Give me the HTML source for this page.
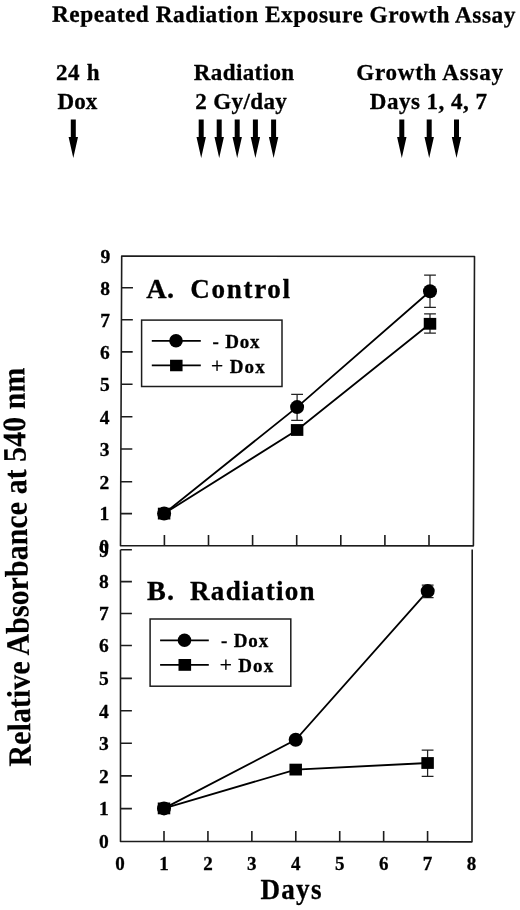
<!DOCTYPE html>
<html><head><meta charset="utf-8"><title>Repeated Radiation Exposure Growth Assay</title>
<style>html,body{margin:0;padding:0;background:#fff;overflow:hidden;}svg{display:block;}</style></head>
<body><svg width="520" height="910" viewBox="0 0 520 910">
<rect width="520" height="910" fill="#fff"/>
<text transform="translate(52.0 21.7) rotate(0.1)" font-family="Liberation Serif, Times New Roman, serif" font-weight="bold" stroke="#000" stroke-width="0.3" font-size="23.3" letter-spacing="0.518">Repeated Radiation Exposure Growth Assay</text>
<text transform="translate(55.9 79.8) scale(0.96 1)" font-family="Liberation Serif, Times New Roman, serif" font-weight="bold" stroke="#000" stroke-width="0.3" font-size="24.0" letter-spacing="0.729">24 h</text>
<text transform="translate(57.5 108.6) scale(0.96 1)" font-family="Liberation Serif, Times New Roman, serif" font-weight="bold" stroke="#000" stroke-width="0.3" font-size="24.0" letter-spacing="0.104">Dox</text>
<text transform="translate(193.8 79.9) scale(0.96 1)" font-family="Liberation Serif, Times New Roman, serif" font-weight="bold" stroke="#000" stroke-width="0.3" font-size="24.0" letter-spacing="0.404">Radiation</text>
<text transform="translate(195.3 108.6) scale(0.96 1)" font-family="Liberation Serif, Times New Roman, serif" font-weight="bold" stroke="#000" stroke-width="0.3" font-size="24.0" letter-spacing="0.387">2 Gy/day</text>
<text transform="translate(356.3 80.4) scale(0.96 1)" font-family="Liberation Serif, Times New Roman, serif" font-weight="bold" stroke="#000" stroke-width="0.3" font-size="24.0" letter-spacing="0.777">Growth Assay</text>
<text transform="translate(369.8 108.6) scale(0.96 1)" font-family="Liberation Serif, Times New Roman, serif" font-weight="bold" stroke="#000" stroke-width="0.3" font-size="24.0" letter-spacing="0.492">Days 1, 4, 7</text>
<g fill="#000"><path d="M70.80 119.5 H75.80 V137 H78.00 L73.30 158 L68.60 137 H70.80 Z"/><path d="M198.70 119.5 H203.70 V137 H205.90 L201.20 158 L196.50 137 H198.70 Z"/><path d="M216.70 119.5 H221.70 V137 H223.90 L219.20 158 L214.50 137 H216.70 Z"/><path d="M234.70 119.5 H239.70 V137 H241.90 L237.20 158 L232.50 137 H234.70 Z"/><path d="M252.90 119.5 H257.90 V137 H260.10 L255.40 158 L250.70 137 H252.90 Z"/><path d="M271.10 119.5 H276.10 V137 H278.30 L273.60 158 L268.90 137 H271.10 Z"/><path d="M399.30 119.5 H404.30 V137 H406.50 L401.80 158 L397.10 137 H399.30 Z"/><path d="M426.70 119.5 H431.70 V137 H433.90 L429.20 158 L424.50 137 H426.70 Z"/><path d="M454.00 119.5 H459.00 V137 H461.20 L456.50 158 L451.80 137 H454.00 Z"/></g>
<g fill="none" stroke="#1c1c1c" stroke-width="1.6" stroke-linejoin="round">
<path d="M121.7 256.1 L474.5 256.5 L473.4 545.85 L120.5 545.75 Z"/>
<path d="M120.63 513.60 h11.4 M120.76 481.80 h11.4 M120.90 449.05 h11.4 M121.03 416.70 h11.4 M121.17 384.20 h11.4 M121.30 351.90 h11.4 M121.44 319.80 h11.4 M121.57 287.80 h11.4 M164.40 545.8 V535 M208.50 545.8 V535 M252.60 545.8 V535 M296.70 545.8 V535 M340.80 545.8 V535 M384.90 545.8 V535 M429.00 545.8 V535 "/>
</g>
<text x="109.00" y="552.50" font-family="Liberation Serif, Times New Roman, serif" font-weight="bold" stroke="#000" stroke-width="0.3" font-size="19.5" text-anchor="end">0</text>
<text x="109.13" y="520.40" font-family="Liberation Serif, Times New Roman, serif" font-weight="bold" stroke="#000" stroke-width="0.3" font-size="19.5" text-anchor="end">1</text>
<text x="109.26" y="488.60" font-family="Liberation Serif, Times New Roman, serif" font-weight="bold" stroke="#000" stroke-width="0.3" font-size="19.5" text-anchor="end">2</text>
<text x="109.40" y="455.85" font-family="Liberation Serif, Times New Roman, serif" font-weight="bold" stroke="#000" stroke-width="0.3" font-size="19.5" text-anchor="end">3</text>
<text x="109.53" y="423.50" font-family="Liberation Serif, Times New Roman, serif" font-weight="bold" stroke="#000" stroke-width="0.3" font-size="19.5" text-anchor="end">4</text>
<text x="109.67" y="391.00" font-family="Liberation Serif, Times New Roman, serif" font-weight="bold" stroke="#000" stroke-width="0.3" font-size="19.5" text-anchor="end">5</text>
<text x="109.80" y="358.70" font-family="Liberation Serif, Times New Roman, serif" font-weight="bold" stroke="#000" stroke-width="0.3" font-size="19.5" text-anchor="end">6</text>
<text x="109.94" y="326.60" font-family="Liberation Serif, Times New Roman, serif" font-weight="bold" stroke="#000" stroke-width="0.3" font-size="19.5" text-anchor="end">7</text>
<text x="110.07" y="294.60" font-family="Liberation Serif, Times New Roman, serif" font-weight="bold" stroke="#000" stroke-width="0.3" font-size="19.5" text-anchor="end">8</text>
<text x="110.20" y="262.70" font-family="Liberation Serif, Times New Roman, serif" font-weight="bold" stroke="#000" stroke-width="0.3" font-size="19.5" text-anchor="end">9</text>
<g fill="none" stroke="#000" stroke-width="1.8">
<polyline points="164.1,513.6 297.1,407.1 430.0,291.2"/>
<polyline points="164.1,513.6 297.1,430.0 430.0,323.8"/>
</g>
<path d="M297.10 394.40 V420.40 M291.20 394.40 H303.00 M291.20 420.40 H303.00" fill="none" stroke="#222" stroke-width="1.25"/>
<path d="M430.00 275.20 V307.30 M424.10 275.20 H435.90 M424.10 307.30 H435.90" fill="none" stroke="#222" stroke-width="1.25"/>
<path d="M430.00 313.80 V333.00 M424.10 313.80 H435.90 M424.10 333.00 H435.90" fill="none" stroke="#222" stroke-width="1.25"/>
<g fill="#000">
<circle cx="164.10" cy="513.60" r="7.0"/>
<rect x="157.85" y="507.70" width="12.5" height="11.8"/>
<circle cx="297.10" cy="407.10" r="7.0"/>
<rect x="290.85" y="424.10" width="12.5" height="11.8"/>
<circle cx="430.00" cy="291.20" r="7.0"/>
<rect x="423.75" y="317.90" width="12.5" height="11.8"/>
</g>
<text transform="translate(146.2 297.6)" font-family="Liberation Serif, Times New Roman, serif" font-weight="bold" stroke="#000" stroke-width="0.3" font-size="28.2" letter-spacing="0.4">A.</text>
<text transform="translate(190.3 297.6) scale(0.96 1)" font-family="Liberation Serif, Times New Roman, serif" font-weight="bold" stroke="#000" stroke-width="0.3" font-size="28.2" letter-spacing="1.753">Control</text>
<rect x="141.6" y="320.1" width="140.4" height="66.4" fill="none" stroke="#1c1c1c" stroke-width="1.5"/>
<path d="M151.8 340.8 H200.8 M151.8 365.3 H200.8" stroke="#000" stroke-width="1.8"/>
<circle cx="176.00" cy="340.80" r="6.8"/>
<rect x="170.05" y="359.75" width="12.5" height="11.5"/>
<text transform="translate(212.4 348.1)" font-family="Liberation Serif, Times New Roman, serif" font-weight="bold" stroke="#000" stroke-width="0.3" font-size="19.0" letter-spacing="0.825">- Dox</text>
<text transform="translate(229.8 372.8)" font-family="Liberation Serif, Times New Roman, serif" font-weight="bold" stroke="#000" stroke-width="0.3" font-size="19.0" letter-spacing="1.1">Dox</text>
<text x="217.1" y="372.6" font-family="Liberation Serif, serif" font-size="21.5" stroke="#000" stroke-width="0.35" text-anchor="middle">+</text>
<g fill="none" stroke="#1c1c1c" stroke-width="1.6" stroke-linejoin="round">
<path d="M120.5 549.8 V841.4 L472 841.85 L472.2 549.5"/>
<path d="M120.5 808.60 h11.4 M120.5 775.90 h11.4 M120.5 743.20 h11.4 M120.5 710.80 h11.4 M120.5 678.40 h11.4 M120.5 645.50 h11.4 M120.5 613.50 h11.4 M120.5 581.60 h11.4 M120.5 549.80 h11.4 M164.00 841.5 V831 M207.93 841.5 V831 M251.86 841.5 V831 M295.79 841.5 V831 M339.72 841.5 V831 M383.65 841.5 V831 M427.58 841.5 V831 "/>
</g>
<text x="108.8" y="848.10" font-family="Liberation Serif, Times New Roman, serif" font-weight="bold" stroke="#000" stroke-width="0.3" font-size="19.5" text-anchor="end">0</text>
<text x="108.8" y="815.40" font-family="Liberation Serif, Times New Roman, serif" font-weight="bold" stroke="#000" stroke-width="0.3" font-size="19.5" text-anchor="end">1</text>
<text x="108.8" y="782.70" font-family="Liberation Serif, Times New Roman, serif" font-weight="bold" stroke="#000" stroke-width="0.3" font-size="19.5" text-anchor="end">2</text>
<text x="108.8" y="750.00" font-family="Liberation Serif, Times New Roman, serif" font-weight="bold" stroke="#000" stroke-width="0.3" font-size="19.5" text-anchor="end">3</text>
<text x="108.8" y="717.60" font-family="Liberation Serif, Times New Roman, serif" font-weight="bold" stroke="#000" stroke-width="0.3" font-size="19.5" text-anchor="end">4</text>
<text x="108.8" y="685.20" font-family="Liberation Serif, Times New Roman, serif" font-weight="bold" stroke="#000" stroke-width="0.3" font-size="19.5" text-anchor="end">5</text>
<text x="108.8" y="652.30" font-family="Liberation Serif, Times New Roman, serif" font-weight="bold" stroke="#000" stroke-width="0.3" font-size="19.5" text-anchor="end">6</text>
<text x="108.8" y="620.30" font-family="Liberation Serif, Times New Roman, serif" font-weight="bold" stroke="#000" stroke-width="0.3" font-size="19.5" text-anchor="end">7</text>
<text x="108.8" y="588.40" font-family="Liberation Serif, Times New Roman, serif" font-weight="bold" stroke="#000" stroke-width="0.3" font-size="19.5" text-anchor="end">8</text>
<text x="108.8" y="556.60" font-family="Liberation Serif, Times New Roman, serif" font-weight="bold" stroke="#000" stroke-width="0.3" font-size="19.5" text-anchor="end">9</text>
<text x="120.07" y="870.2" font-family="Liberation Serif, Times New Roman, serif" font-weight="bold" stroke="#000" stroke-width="0.3" font-size="19" text-anchor="middle">0</text>
<text x="164.00" y="870.2" font-family="Liberation Serif, Times New Roman, serif" font-weight="bold" stroke="#000" stroke-width="0.3" font-size="19" text-anchor="middle">1</text>
<text x="207.93" y="870.2" font-family="Liberation Serif, Times New Roman, serif" font-weight="bold" stroke="#000" stroke-width="0.3" font-size="19" text-anchor="middle">2</text>
<text x="251.86" y="870.2" font-family="Liberation Serif, Times New Roman, serif" font-weight="bold" stroke="#000" stroke-width="0.3" font-size="19" text-anchor="middle">3</text>
<text x="295.79" y="870.2" font-family="Liberation Serif, Times New Roman, serif" font-weight="bold" stroke="#000" stroke-width="0.3" font-size="19" text-anchor="middle">4</text>
<text x="339.72" y="870.2" font-family="Liberation Serif, Times New Roman, serif" font-weight="bold" stroke="#000" stroke-width="0.3" font-size="19" text-anchor="middle">5</text>
<text x="383.65" y="870.2" font-family="Liberation Serif, Times New Roman, serif" font-weight="bold" stroke="#000" stroke-width="0.3" font-size="19" text-anchor="middle">6</text>
<text x="427.58" y="870.2" font-family="Liberation Serif, Times New Roman, serif" font-weight="bold" stroke="#000" stroke-width="0.3" font-size="19" text-anchor="middle">7</text>
<text x="471.51" y="870.2" font-family="Liberation Serif, Times New Roman, serif" font-weight="bold" stroke="#000" stroke-width="0.3" font-size="19" text-anchor="middle">8</text>
<g fill="none" stroke="#000" stroke-width="1.8">
<polyline points="164.0,808.4 295.7,739.8 427.7,591.1"/>
<polyline points="164.0,808.4 295.7,769.6 427.6,763.0"/>
</g>
<path d="M427.70 585.00 V597.70 M421.80 585.00 H433.60 M421.80 597.70 H433.60" fill="none" stroke="#222" stroke-width="1.25"/>
<path d="M427.60 750.20 V776.40 M421.70 750.20 H433.50 M421.70 776.40 H433.50" fill="none" stroke="#222" stroke-width="1.25"/>
<g fill="#000">
<circle cx="164.00" cy="808.40" r="7.0"/>
<rect x="157.75" y="802.50" width="12.5" height="11.8"/>
<circle cx="295.70" cy="739.80" r="7.0"/>
<rect x="289.45" y="763.70" width="12.5" height="11.8"/>
<circle cx="427.70" cy="591.10" r="7.0"/>
<rect x="421.35" y="757.10" width="12.5" height="11.8"/>
</g>
<text transform="translate(146.9 599.6)" font-family="Liberation Serif, Times New Roman, serif" font-weight="bold" stroke="#000" stroke-width="0.3" font-size="28.2" letter-spacing="1.2">B.</text>
<text transform="translate(190.0 599.7) scale(0.96 1)" font-family="Liberation Serif, Times New Roman, serif" font-weight="bold" stroke="#000" stroke-width="0.3" font-size="28.2" letter-spacing="1.354">Radiation</text>
<rect x="150.1" y="619" width="140.7" height="67.2" fill="none" stroke="#1c1c1c" stroke-width="1.5"/>
<path d="M160.1 640.3 H208.8 M160.1 664.8 H208.8" stroke="#000" stroke-width="1.8"/>
<circle cx="184.50" cy="640.30" r="6.8"/>
<rect x="178.50" y="659.00" width="12.6" height="11.8"/>
<text transform="translate(221.0 647.2)" font-family="Liberation Serif, Times New Roman, serif" font-weight="bold" stroke="#000" stroke-width="0.3" font-size="19.0" letter-spacing="0.85">- Dox</text>
<text x="225.7" y="671.8" font-family="Liberation Serif, serif" font-size="21.5" stroke="#000" stroke-width="0.35" text-anchor="middle">+</text>
<text transform="translate(238.2 671.8)" font-family="Liberation Serif, Times New Roman, serif" font-weight="bold" stroke="#000" stroke-width="0.3" font-size="19.0" letter-spacing="1.2">Dox</text>
<text transform="translate(260.4 899.2) scale(0.92 1)" font-family="Liberation Serif, Times New Roman, serif" font-weight="bold" stroke="#000" stroke-width="0.3" font-size="29.5" letter-spacing="1.377">Days</text>
<text transform="translate(27.6 566.9) rotate(-90.95)" font-family="Liberation Serif, Times New Roman, serif" font-weight="bold" stroke="#000" stroke-width="0.12" font-size="32.8" text-anchor="middle" textLength="399" lengthAdjust="spacingAndGlyphs">Relative Absorbance at 540 nm</text>
</svg></body></html>
